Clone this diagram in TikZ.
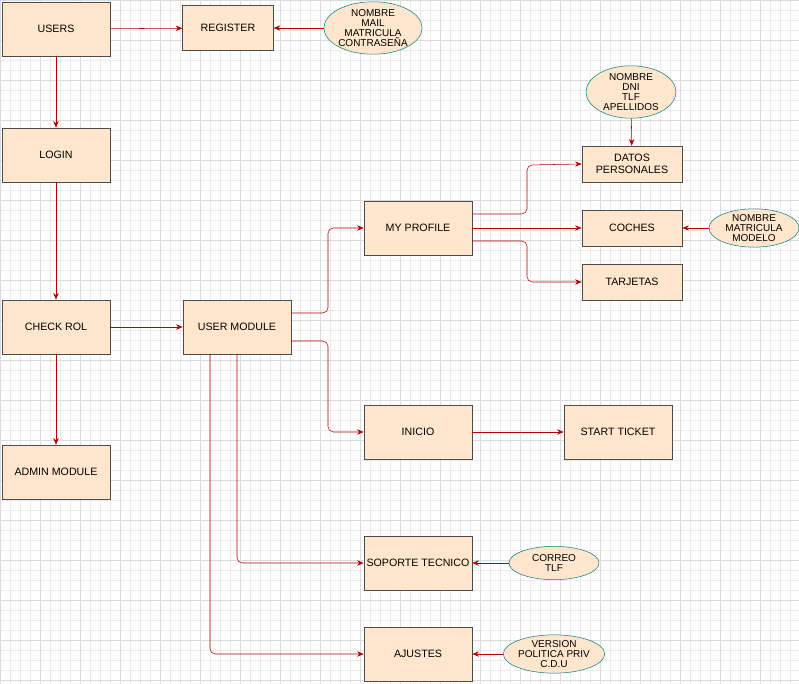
\documentclass[tikz,border=0pt]{standalone}
\usepackage{fontspec}
\setmainfont{Liberation Sans}
\usetikzlibrary{arrows.meta,shapes.geometric}
\definecolor{bx}{HTML}{FFE6CC}
\definecolor{ar}{HTML}{B20000}
\definecolor{el}{HTML}{0E8088}
\begin{document}
\begin{tikzpicture}[x=0.75pt,y=-0.75pt,
  box/.style={draw=black!70,fill=bx,minimum width=81pt,minimum height=40.5pt,inner sep=0pt,align=center,font=\fontsize{8}{9}\selectfont},
  sbox/.style={box,minimum width=75pt,minimum height=27pt},
  ell/.style={draw=el,fill=bx,ellipse,minimum width=67.5pt,minimum height=27pt,inner sep=0pt,align=center,font=\fontsize{7.5}{7.5}\selectfont},
  arr/.style={draw=ar,-{Stealth[length=5pt,width=4pt]},rounded corners=4pt}]
\useasboundingbox (0,0) rectangle (799,684);
\fill[white] (0,0) rectangle (799,684);
\foreach \i in {0,10,...,800} {\draw[black!8] (\i,0) -- (\i,684);}
\foreach \i in {0,10,...,680} {\draw[black!8] (0,\i) -- (799,\i);}
\foreach \i in {0,40,...,800} {\draw[black!14] (\i,0) -- (\i,684);}
\foreach \i in {0,40,...,680} {\draw[black!14] (0,\i) -- (799,\i);}
\node[box] (users) at (56,29) {USERS};
\node[box,minimum width=68pt,minimum height=34pt] (reg) at (228,28) {REGISTER};
\node[box] (login) at (56,155) {LOGIN};
\node[box] (check) at (56,327) {CHECK ROL};
\node[box] (admin) at (56,472) {ADMIN MODULE};
\node[box] (um) at (237,327) {USER MODULE};
\node[box] (prof) at (418,228) {MY PROFILE};
\node[box] (ini) at (418,432) {INICIO};
\node[box] (st) at (618,432) {START TICKET};
\node[box] (sop) at (418,563) {SOPORTE TECNICO};
\node[box] (aj) at (418,654) {AJUSTES};
\node[sbox] (dat) at (632,164) {DATOS\\PERSONALES};
\node[sbox] (coc) at (632,228) {COCHES};
\node[sbox] (tar) at (632,282) {TARJETAS};
\node[ell] (e1) at (373,28) {NOMBRE\\MAIL\\MATRICULA\\CONTRASEÑA};
\node[ell] (e2) at (631,92) {NOMBRE\\DNI\\TLF\\APELLIDOS};
\node[ell] (e3) at (754,228) {NOMBRE\\MATRICULA\\MODELO};
\node[ell,minimum height=25pt] (e4) at (554,563) {CORREO\\TLF};
\node[ell] (e5) at (554,654) {VERSION\\POLITICA PRIV\\C.D.U};
\draw[arr] (users) -- (reg);
\draw[arr] (e1) -- (reg);
\draw[arr] (users) -- (login);
\draw[arr] (login) -- (check);
\draw[arr] (check) -- (admin);
\draw[arr] (check) -- (um);
\draw[arr] (um.east|-0,313) -- (328,313) -- (328,228) -- (prof.west);
\draw[arr] (um.east|-0,341) -- (328,341) -- (328,432) -- (ini.west);
\draw[arr] (237,354) -- (237,563) -- (sop.west);
\draw[arr] (210,354) -- (210,654) -- (aj.west);
\draw[arr] (prof.east|-0,214) -- (527,214) -- (527,165) -- (dat.west);
\draw[arr] (prof) -- (coc);
\draw[arr] (prof.east|-0,241) -- (527,241) -- (527,282) -- (tar.west);
\draw[arr] (ini) -- (st);
\draw[arr] (e2) -- (dat);
\draw[arr] (e3) -- (coc);
\draw[arr] (e4) -- (sop);
\draw[arr] (e5) -- (aj);
\end{tikzpicture}
\end{document}
